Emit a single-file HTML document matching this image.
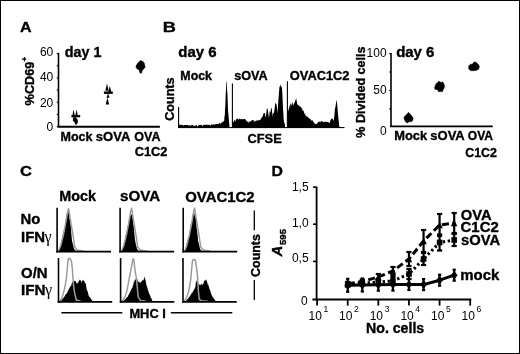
<!DOCTYPE html>
<html><head><meta charset="utf-8"><title>Figure</title>
<style>
html,body{margin:0;padding:0;background:#fff;}
svg{display:block;}
text{font-family:"Liberation Sans",Arial,Helvetica,sans-serif;fill:#000;}
text[font-weight="bold"]{stroke:#000;stroke-width:0.35px;}
</style></head>
<body>
<svg width="520" height="354" viewBox="0 0 520 354">
<rect x="0.5" y="0.5" width="519" height="353" fill="#fff" stroke="#000" stroke-width="1"/>
<text x="20.09" y="31.50" font-size="15.5" font-weight="bold" textLength="11.56" lengthAdjust="spacingAndGlyphs">A</text>
<text x="162.72" y="31.50" font-size="15.5" font-weight="bold" textLength="13.13" lengthAdjust="spacingAndGlyphs">B</text>
<text x="20.03" y="175.80" font-size="15.5" font-weight="bold" textLength="11.90" lengthAdjust="spacingAndGlyphs">C</text>
<text x="271.48" y="175.80" font-size="15.5" font-weight="bold" textLength="11.43" lengthAdjust="spacingAndGlyphs">D</text>
<line x1="58.50" y1="52.80" x2="58.50" y2="127.30" stroke="#000" stroke-width="1.6" />
<line x1="57.70" y1="126.80" x2="159.90" y2="126.80" stroke="#000" stroke-width="2.0" />
<line x1="56.80" y1="126.60" x2="58.50" y2="126.60" stroke="#000" stroke-width="1.2" />
<line x1="56.80" y1="114.43" x2="58.50" y2="114.43" stroke="#000" stroke-width="1.2" />
<line x1="56.80" y1="102.26" x2="58.50" y2="102.26" stroke="#000" stroke-width="1.2" />
<line x1="56.80" y1="90.09" x2="58.50" y2="90.09" stroke="#000" stroke-width="1.2" />
<line x1="56.80" y1="77.92" x2="58.50" y2="77.92" stroke="#000" stroke-width="1.2" />
<line x1="56.80" y1="65.75" x2="58.50" y2="65.75" stroke="#000" stroke-width="1.2" />
<line x1="56.80" y1="53.58" x2="58.50" y2="53.58" stroke="#000" stroke-width="1.2" />
<text x="53.3" y="55.6" font-size="12" font-weight="normal" text-anchor="end" >60</text>
<text x="53.3" y="81.0" font-size="12" font-weight="normal" text-anchor="end" >40</text>
<text x="53.3" y="107.1" font-size="12" font-weight="normal" text-anchor="end" >20</text>
<text x="53.3" y="130.6" font-size="12" font-weight="normal" text-anchor="end" >0</text>
<text x="64.74" y="57.10" font-size="14.0" font-weight="bold" textLength="36.69" lengthAdjust="spacingAndGlyphs">day 1</text>
<text transform="translate(34.00,105.39) rotate(-90)" font-size="12.6" font-weight="bold" textLength="43.82" lengthAdjust="spacingAndGlyphs">%CD69</text>
<text x="21.0" y="61.4" font-size="7.8" font-weight="bold" transform="translate(1.6,0) rotate(-90 23.1 59.3)">+</text>
<text x="60.57" y="140.60" font-size="12.4" font-weight="bold" textLength="31.98" lengthAdjust="spacingAndGlyphs">Mock</text>
<text x="95.89" y="140.60" font-size="12.4" font-weight="bold" textLength="34.50" lengthAdjust="spacingAndGlyphs">sOVA</text>
<text x="134.25" y="140.70" font-size="12.4" font-weight="bold" textLength="26.17" lengthAdjust="spacingAndGlyphs">OVA</text>
<text x="134.73" y="156.30" font-size="12.4" font-weight="bold" textLength="32.73" lengthAdjust="spacingAndGlyphs">C1C2</text>
<path d="M72.3,116.0 L73.6,109.6 L74.9,116.0 Z" fill="#000" stroke="none" stroke-width="1" />
<path d="M75.3,116.0 L76.6,109.6 L77.9,116.0 Z" fill="#000" stroke="none" stroke-width="1" />
<line x1="71.40" y1="116.20" x2="80.20" y2="116.20" stroke="#000" stroke-width="2.3" />
<path d="M73.0,117.6 L75.6,117.3 L77.6,119.6 L77.9,122.4 L76.4,124.8 L75.3,124.6 L74.6,122.4 L72.8,120.4 Z" fill="#000" stroke="none" stroke-width="1" />
<path d="M105.4,90.8 L107.0,83.2 L108.6,90.8 Z" fill="#000" stroke="none" stroke-width="1" />
<path d="M108.2,92.2 L109.8,85.8 L111.4,92.2 Z" fill="#000" stroke="none" stroke-width="1" />
<path d="M105.7,104.5 L107.4,97.5 L109.1,104.5 Z" fill="#000" stroke="none" stroke-width="1" />
<line x1="103.90" y1="92.70" x2="112.80" y2="92.70" stroke="#000" stroke-width="2.4" />
<path d="M106.5,97.8 L108.0,93.2 L109.5,97.8 Z" fill="#000" stroke="none" stroke-width="1" />
<path d="M140.2,60.7 L142.7,61.4 L144.0,62.7 L144.4,64.8 L145.1,67.0 L144.0,68.6 L142.7,69.5 L141.9,71.2 L141.4,73.1 L140.2,73.1 L139.7,71.2 L139.3,69.9 L137.6,69.1 L136.2,67.8 L136.2,66.1 L137.6,63.5 L138.9,61.9 Z" fill="#000" stroke="#000" stroke-width="0.8" stroke-linejoin="round"/>
<text x="178.39" y="57.10" font-size="14.0" font-weight="bold" textLength="38.30" lengthAdjust="spacingAndGlyphs">day 6</text>
<text x="180.37" y="80.30" font-size="12.2" font-weight="bold" textLength="31.60" lengthAdjust="spacingAndGlyphs">Mock</text>
<text x="234.16" y="80.40" font-size="12.2" font-weight="bold" textLength="33.51" lengthAdjust="spacingAndGlyphs">sOVA</text>
<text x="289.86" y="79.80" font-size="12.2" font-weight="bold" textLength="59.64" lengthAdjust="spacingAndGlyphs">OVAC1C2</text>
<text transform="translate(174.00,120.81) rotate(-90)" font-size="12.4" font-weight="bold" textLength="43.36" lengthAdjust="spacingAndGlyphs">Counts</text>
<text x="247.46" y="143.20" font-size="12.8" font-weight="bold" textLength="34.32" lengthAdjust="spacingAndGlyphs">CFSE</text>
<path d="M178.8,127.9 L178.8,125.0 L179.4,124.8 L180.0,125.0 L180.6,124.8 L181.2,124.8 L181.8,124.8 L182.4,124.9 L183.0,124.9 L183.6,125.7 L184.2,124.9 L184.8,124.9 L185.4,124.9 L186.0,124.9 L186.6,124.9 L187.2,124.9 L187.8,125.1 L188.4,125.7 L189.0,125.0 L189.6,125.5 L190.0,125.0 L190.2,125.9 L190.8,125.5 L191.4,125.0 L192.0,125.0 L192.6,125.0 L193.2,124.9 L193.8,126.4 L194.4,125.7 L195.0,125.9 L195.6,125.6 L196.2,124.9 L196.8,124.9 L197.4,126.4 L198.0,126.4 L198.6,124.9 L199.2,124.9 L199.8,124.9 L200.4,124.9 L201.0,124.8 L201.6,124.8 L202.2,126.3 L202.8,125.4 L203.4,125.0 L204.0,124.8 L204.6,124.8 L205.0,124.9 L205.2,124.8 L205.8,124.8 L206.4,124.7 L207.0,124.7 L207.6,124.7 L208.2,125.1 L208.8,124.8 L209.4,125.0 L210.0,124.6 L210.6,125.9 L211.2,124.6 L211.8,124.6 L212.4,124.6 L213.0,124.5 L213.6,124.5 L214.2,124.5 L214.8,124.5 L215.0,124.4 L215.4,124.2 L216.0,124.1 L216.6,124.0 L217.2,123.9 L217.8,123.7 L218.4,124.3 L219.0,123.3 L219.6,123.1 L220.2,122.9 L220.8,124.4 L221.4,122.5 L222.0,121.9 L222.6,122.5 L223.2,121.0 L223.5,120.8 L223.8,122.3 L224.3,120.1 L224.4,117.1 L224.8,115.6 L225.0,109.5 L225.3,106.5 L225.6,96.2 L226.0,89.5 L226.2,83.5 L226.5,80.5 L226.8,83.5 L227.0,89.5 L227.4,93.8 L227.8,103.5 L228.0,110.5 L228.3,113.5 L228.6,116.5 L228.8,118.5 L229.2,123.5 L229.3,124.1 L229.6,127.9 L229.6,127.9 Z" fill="#000" stroke="none" stroke-width="1" />
<line x1="178.60" y1="107.00" x2="178.60" y2="127.90" stroke="#000" stroke-width="1.1" />
<path d="M232.6,127.9 L232.6,121.6 L233.2,122.5 L233.8,121.4 L234.4,120.0 L234.6,119.8 L235.0,120.1 L235.6,121.7 L236.2,118.9 L236.8,118.9 L237.4,118.5 L237.6,118.5 L238.0,118.5 L238.6,120.3 L239.2,118.6 L239.8,118.7 L240.4,119.6 L240.7,118.9 L241.0,118.9 L241.6,118.9 L242.2,119.0 L242.8,119.7 L243.4,119.0 L244.0,119.1 L244.6,119.1 L245.2,119.2 L245.3,120.6 L245.8,119.2 L246.4,120.6 L247.0,122.0 L247.6,120.9 L248.2,123.4 L248.8,121.3 L249.4,121.6 L249.8,122.5 L250.0,121.7 L250.6,121.3 L251.2,120.8 L251.8,120.4 L252.4,120.0 L252.9,120.0 L253.0,120.0 L253.6,120.3 L254.2,122.7 L254.8,120.2 L255.4,121.5 L256.0,120.4 L256.6,120.5 L257.2,120.6 L257.5,120.6 L257.8,120.5 L258.4,120.3 L259.0,120.2 L259.6,120.1 L260.2,120.0 L260.5,119.5 L260.8,118.6 L261.4,118.6 L262.0,116.7 L262.6,116.2 L262.8,116.9 L263.2,114.3 L263.8,113.1 L264.4,113.1 L265.0,113.1 L265.6,117.8 L265.9,116.2 L266.2,114.4 L266.8,108.5 L267.4,108.5 L268.0,111.4 L268.6,115.2 L268.9,118.3 L269.2,116.0 L269.8,111.0 L270.4,112.5 L271.0,109.2 L271.2,107.8 L271.6,107.8 L272.2,112.4 L272.7,117.6 L272.8,114.2 L273.4,113.5 L274.0,112.4 L274.6,108.7 L275.2,103.2 L275.8,103.2 L276.4,104.0 L277.0,107.3 L277.6,113.4 L278.2,103.0 L278.8,95.1 L279.4,87.3 L279.6,86.1 L280.0,87.3 L280.6,84.4 L280.7,84.1 L281.2,87.9 L281.8,85.4 L281.9,86.9 L282.4,94.5 L283.0,108.1 L283.4,114.0 L283.6,118.8 L284.2,122.8 L284.8,123.5 L285.0,126.7 L285.4,127.7 L285.5,127.9 L285.5,127.9 Z" fill="#000" stroke="none" stroke-width="1" />
<line x1="232.40" y1="83.60" x2="232.40" y2="127.90" stroke="#000" stroke-width="1.1" />
<path d="M287.7,127.9 L287.7,108.8 L288.3,111.3 L288.8,107.6 L288.9,110.1 L289.5,105.1 L290.1,107.3 L290.3,104.1 L290.7,103.2 L291.3,105.7 L291.9,103.6 L292.3,101.9 L292.5,102.2 L293.1,106.4 L293.4,103.9 L293.7,104.4 L294.3,103.2 L294.9,102.1 L295.5,99.1 L296.1,101.6 L296.5,97.8 L296.7,99.8 L297.3,105.2 L297.5,104.1 L297.9,104.8 L298.5,105.5 L299.1,105.1 L299.5,106.9 L299.7,106.2 L300.3,106.4 L300.9,107.0 L301.5,107.9 L301.8,108.6 L302.1,108.5 L302.7,110.7 L303.3,110.4 L303.9,111.5 L304.1,112.7 L304.5,113.9 L305.1,113.6 L305.7,116.5 L306.3,115.3 L306.4,116.2 L306.9,116.8 L307.5,116.6 L308.1,117.5 L308.7,118.0 L309.3,118.0 L309.4,118.4 L309.9,119.1 L310.5,118.9 L311.1,120.4 L311.7,120.5 L312.3,120.2 L312.5,120.6 L312.9,120.8 L313.5,122.2 L314.1,122.7 L314.7,123.3 L314.8,123.7 L315.3,124.3 L315.9,123.8 L316.5,124.0 L317.1,123.8 L317.7,122.6 L318.3,122.1 L318.9,121.5 L319.5,121.4 L320.1,122.7 L320.7,121.3 L321.3,121.0 L321.9,121.4 L322.5,121.6 L323.1,122.0 L323.2,122.2 L323.7,122.0 L324.3,121.8 L324.9,121.9 L325.5,121.5 L326.1,122.1 L326.2,121.5 L326.7,121.9 L327.3,121.9 L327.9,122.0 L328.5,122.3 L329.1,122.8 L329.3,122.6 L329.7,123.5 L330.3,120.5 L330.9,119.7 L331.5,118.7 L331.6,118.5 L332.1,118.6 L332.7,118.8 L333.3,121.1 L333.9,119.6 L334.5,114.3 L335.1,107.1 L335.4,108.2 L335.7,105.1 L336.3,101.0 L336.6,100.1 L336.9,102.3 L337.5,107.5 L337.7,110.8 L338.1,115.0 L338.4,118.2 L338.7,120.4 L339.2,126.4 L339.3,126.6 L339.9,126.9 L340.5,127.0 L341.0,127.0 L341.1,127.2 L341.7,127.3 L342.3,127.5 L342.9,127.5 L343.5,127.7 L344.1,127.8 L344.5,127.9 L344.5,127.9 Z" fill="#000" stroke="none" stroke-width="1" />
<line x1="287.40" y1="81.20" x2="287.40" y2="127.90" stroke="#000" stroke-width="1.1" />
<line x1="178.20" y1="127.60" x2="344.50" y2="127.60" stroke="#000" stroke-width="1.0" />
<line x1="391.00" y1="52.90" x2="391.00" y2="127.00" stroke="#000" stroke-width="1.6" />
<line x1="390.20" y1="126.40" x2="492.80" y2="126.40" stroke="#000" stroke-width="1.8" />
<line x1="389.30" y1="53.50" x2="391.00" y2="53.50" stroke="#000" stroke-width="1.2" />
<line x1="389.30" y1="72.00" x2="391.00" y2="72.00" stroke="#000" stroke-width="1.2" />
<line x1="389.30" y1="90.50" x2="391.00" y2="90.50" stroke="#000" stroke-width="1.2" />
<line x1="389.30" y1="108.80" x2="391.00" y2="108.80" stroke="#000" stroke-width="1.2" />
<text x="386.6" y="57.3" font-size="12" font-weight="normal" text-anchor="end" >100</text>
<text x="386.6" y="94.3" font-size="12" font-weight="normal" text-anchor="end" >50</text>
<text x="386.6" y="134.8" font-size="12" font-weight="normal" text-anchor="end" >0</text>
<text x="396.20" y="57.10" font-size="14.0" font-weight="bold" textLength="38.22" lengthAdjust="spacingAndGlyphs">day 6</text>
<text transform="translate(365.20,137.66) rotate(-90)" font-size="12.4" font-weight="bold" textLength="91.01" lengthAdjust="spacingAndGlyphs">% Divided cells</text>
<text x="394.26" y="140.30" font-size="12.4" font-weight="bold" textLength="32.82" lengthAdjust="spacingAndGlyphs">Mock</text>
<text x="430.30" y="140.30" font-size="12.4" font-weight="bold" textLength="34.46" lengthAdjust="spacingAndGlyphs">sOVA</text>
<text x="467.82" y="140.30" font-size="12.4" font-weight="bold" textLength="25.23" lengthAdjust="spacingAndGlyphs">OVA</text>
<text x="465.36" y="156.50" font-size="12.4" font-weight="bold" textLength="31.54" lengthAdjust="spacingAndGlyphs">C1C2</text>
<path d="M408.4,112.3 L410.2,114.1 L412.2,116.4 L413.2,118.2 L412.7,120.7 L410.9,122 L409.4,121.5 L407.6,123 L405.8,122.2 L404.8,120.2 L403.8,117.9 L404.8,116.1 L406.6,114.6 Z" fill="#000" stroke="#000" stroke-width="0.4" stroke-linejoin="round"/>
<path d="M438.6,81.1 L439.9,81.8 L441.2,82.6 L442.7,81.8 L443.7,83.6 L444.7,85.6 L444,88.4 L443,90 L442.7,91.5 L438.4,91.7 L437.9,90 L434.8,89.2 L434.6,87.2 L436.1,83.6 L437.9,82.6 Z" fill="#000" stroke="#000" stroke-width="0.4" stroke-linejoin="round"/>
<path d="M474.7,61.8 L476.7,62.8 L478.5,64.6 L479.5,66.7 L478.5,69.5 L475.2,70.7 L470.6,70.7 L468.6,68.7 L468.6,66.2 L470.1,64.4 L472.6,63.9 L473.4,62.6 Z" fill="#000" stroke="#000" stroke-width="0.4" stroke-linejoin="round"/>
<text x="59.20" y="201.20" font-size="14.0" font-weight="bold" textLength="36.71" lengthAdjust="spacingAndGlyphs">Mock</text>
<text x="120.05" y="200.80" font-size="14.0" font-weight="bold" textLength="40.01" lengthAdjust="spacingAndGlyphs">sOVA</text>
<text x="185.19" y="201.60" font-size="14.0" font-weight="bold" textLength="69.45" lengthAdjust="spacingAndGlyphs">OVAC1C2</text>
<text x="20.61" y="224.10" font-size="14.0" font-weight="bold" textLength="19.78" lengthAdjust="spacingAndGlyphs">No</text>
<text x="21.04" y="241.80" font-size="14.0" font-weight="bold" textLength="24.02" lengthAdjust="spacingAndGlyphs">IFN</text>
<text x="44.4" y="242.2" font-size="16" style="font-family:'Liberation Serif',serif">&#947;</text>
<text x="21.06" y="277.70" font-size="14.0" font-weight="bold" textLength="26.53" lengthAdjust="spacingAndGlyphs">O/N</text>
<text x="20.97" y="295.00" font-size="14.0" font-weight="bold" textLength="24.59" lengthAdjust="spacingAndGlyphs">IFN</text>
<text x="44.9" y="295.4" font-size="16" style="font-family:'Liberation Serif',serif">&#947;</text>
<text x="129.41" y="318.20" font-size="12.6" font-weight="bold" textLength="36.41" lengthAdjust="spacingAndGlyphs">MHC I</text>
<line x1="61.40" y1="312.70" x2="122.30" y2="312.70" stroke="#000" stroke-width="1.6" />
<line x1="170.80" y1="312.70" x2="232.30" y2="312.70" stroke="#000" stroke-width="1.6" />
<text transform="translate(260.10,276.91) rotate(-90)" font-size="12.4" font-weight="bold" textLength="42.80" lengthAdjust="spacingAndGlyphs">Counts</text>
<line x1="254.30" y1="210.40" x2="254.30" y2="230.20" stroke="#000" stroke-width="1.3" />
<line x1="254.30" y1="280.00" x2="254.30" y2="300.00" stroke="#000" stroke-width="1.3" />
<path d="M58.3,251.7 L58.3,251.7 L58.8,250.4 L59.3,249.0 L59.8,247.5 L60.3,246.3 L60.4,245.9 L60.8,244.5 L61.3,242.1 L61.8,239.3 L62.3,238.3 L62.8,234.3 L63.3,234.2 L63.4,233.3 L63.8,231.0 L64.3,227.6 L64.8,227.2 L65.3,225.6 L65.8,219.8 L66.1,218.1 L66.3,217.2 L66.8,213.4 L67.3,213.1 L67.6,211.6 L67.8,209.9 L68.3,209.5 L68.4,209.5 L68.8,213.5 L69.2,214.1 L69.3,219.5 L69.8,217.8 L70.3,223.7 L70.6,225.1 L70.8,226.0 L71.3,233.2 L71.8,238.4 L72.0,240.5 L72.3,241.9 L72.8,243.9 L73.3,245.7 L73.8,247.9 L74.0,248.8 L74.3,249.2 L74.8,249.7 L75.3,250.3 L75.8,251.0 L76.3,251.6 L76.4,251.7 L76.4,251.7 Z" fill="#000" stroke="none" stroke-width="1" />
<path d="M58.1,251.1 L58.6,250.4 L59.1,249.5 L59.6,248.4 L60.1,247.3 L60.6,246.2 L61.1,244.1 L61.6,242.4 L62.1,240.0 L62.6,238.1 L63.1,236.4 L63.6,233.7 L64.1,231.3 L64.6,228.9 L65.1,226.3 L65.6,223.4 L66.1,220.8 L66.6,217.7 L67.1,215.0 L67.6,211.6 L68.1,209.9 L68.6,208.7 L69.1,211.1 L69.6,214.7 L70.1,218.3 L70.6,221.0 L71.1,223.8 L71.6,227.0 L72.1,229.7 L72.6,232.6 L73.1,235.7 L73.6,239.5 L74.1,242.9 L74.6,246.1 L75.1,247.9 L75.6,248.0 L76.1,248.7 L76.6,249.3 L77.1,250.1 L77.6,250.5 L78.1,250.2 L78.6,250.2 L79.1,250.4 L79.6,250.5 L80.1,250.8 L80.6,250.5 L81.1,250.8 L81.6,250.9 L82.1,251.0 L82.6,251.0 L83.1,251.0 L83.6,251.0 L84.1,251.1" fill="none" stroke="#9c9c9c" stroke-width="1.5" stroke-linejoin="round"/>
<line x1="57.10" y1="207.80" x2="57.10" y2="252.50" stroke="#000" stroke-width="1.6" />
<line x1="56.30" y1="251.70" x2="111.00" y2="251.70" stroke="#000" stroke-width="1.8" />
<path d="M121.3,251.7 L121.3,251.7 L121.8,250.3 L122.3,248.9 L122.8,247.6 L123.3,246.3 L123.4,246.2 L123.8,244.2 L124.3,242.2 L124.8,240.5 L125.3,238.1 L125.8,234.5 L126.3,233.9 L126.4,232.7 L126.8,231.2 L127.3,228.2 L127.8,225.7 L128.3,225.0 L128.8,220.6 L129.1,219.9 L129.3,218.0 L129.8,218.4 L130.3,214.0 L130.6,215.1 L130.8,216.2 L131.3,214.0 L131.4,215.8 L131.8,214.0 L132.2,214.5 L132.3,216.3 L132.8,218.1 L133.3,224.9 L133.6,224.8 L133.8,227.8 L134.3,232.6 L134.8,238.2 L135.0,240.0 L135.3,241.2 L135.8,244.0 L136.3,245.9 L136.8,247.8 L137.0,248.7 L137.3,249.2 L137.8,249.8 L138.3,250.3 L138.8,251.0 L139.3,251.6 L139.4,251.7 L139.4,251.7 Z" fill="#000" stroke="none" stroke-width="1" />
<path d="M121.1,251.4 L121.6,250.5 L122.1,249.6 L122.6,248.2 L123.1,247.4 L123.6,246.0 L124.1,244.0 L124.6,242.4 L125.1,240.2 L125.6,238.4 L126.1,236.1 L126.6,234.1 L127.1,231.3 L127.6,228.7 L128.1,226.3 L128.6,223.8 L129.1,220.8 L129.6,218.0 L130.1,214.9 L130.6,211.6 L131.1,209.7 L131.6,208.3 L132.1,211.0 L132.6,214.7 L133.1,218.1 L133.6,221.1 L134.1,223.8 L134.6,226.6 L135.1,229.7 L135.6,232.8 L136.1,235.8 L136.6,239.2 L137.1,242.6 L137.6,246.2 L138.1,247.7 L138.6,248.0 L139.1,248.6 L139.6,249.3 L140.1,249.9 L140.6,250.3 L141.1,250.1 L141.6,250.2 L142.1,250.5 L142.6,250.4 L143.1,250.5 L143.6,250.5 L144.1,250.9 L144.6,250.7 L145.1,250.9 L145.6,250.8 L146.1,251.0 L146.6,251.3 L147.1,251.4" fill="none" stroke="#9c9c9c" stroke-width="1.5" stroke-linejoin="round"/>
<line x1="120.10" y1="207.80" x2="120.10" y2="252.50" stroke="#000" stroke-width="1.6" />
<line x1="119.30" y1="251.70" x2="174.20" y2="251.70" stroke="#000" stroke-width="1.8" />
<path d="M184.4,251.7 L184.4,251.7 L184.9,250.3 L185.4,248.8 L185.9,247.4 L186.4,246.2 L186.9,243.2 L187.4,241.7 L187.9,240.4 L188.4,237.0 L188.9,236.5 L189.4,232.5 L189.9,231.1 L190.4,227.9 L190.9,224.0 L191.4,222.6 L191.9,221.8 L192.1,221.2 L192.4,216.2 L192.9,214.7 L193.4,215.0 L193.6,213.0 L193.9,213.0 L194.4,213.0 L194.9,217.1 L195.2,214.5 L195.4,214.4 L195.9,219.1 L196.4,223.3 L196.6,228.5 L196.9,228.9 L197.4,233.8 L197.9,238.0 L198.0,240.7 L198.4,242.1 L198.9,244.1 L199.4,246.1 L199.9,248.4 L200.0,248.7 L200.4,249.4 L200.9,249.9 L201.4,250.5 L201.9,251.1 L202.4,251.7 L202.4,251.7 Z" fill="#000" stroke="none" stroke-width="1" />
<path d="M184.2,251.2 L184.7,250.4 L185.2,249.5 L185.7,248.2 L186.2,247.2 L186.7,245.7 L187.2,243.8 L187.7,241.7 L188.2,239.6 L188.7,237.7 L189.2,235.9 L189.7,233.6 L190.2,230.6 L190.7,228.3 L191.2,225.8 L191.7,222.8 L192.2,220.6 L192.7,217.1 L193.2,214.3 L193.7,211.1 L194.2,209.5 L194.7,208.1 L195.2,211.8 L195.7,215.6 L196.2,218.6 L196.7,221.7 L197.2,224.5 L197.7,227.4 L198.2,230.1 L198.7,233.4 L199.2,236.7 L199.7,239.9 L200.2,243.5 L200.7,246.9 L201.2,247.8 L201.7,248.2 L202.2,248.9 L202.7,249.2 L203.2,249.8 L203.7,250.2 L204.2,250.1 L204.7,250.3 L205.2,250.4 L205.7,250.3 L206.2,250.6 L206.7,250.4 L207.2,250.8 L207.7,250.9 L208.2,250.9 L208.7,250.7 L209.2,251.0 L209.7,251.0 L210.2,251.4" fill="none" stroke="#9c9c9c" stroke-width="1.5" stroke-linejoin="round"/>
<line x1="183.20" y1="207.80" x2="183.20" y2="252.50" stroke="#000" stroke-width="1.6" />
<line x1="182.40" y1="251.70" x2="237.20" y2="251.70" stroke="#000" stroke-width="1.8" />
<path d="M60.0,301.9 L60.0,301.9 L60.5,301.3 L61.0,300.7 L61.5,300.2 L62.0,299.6 L62.5,299.2 L63.0,298.3 L63.5,298.0 L64.0,296.7 L64.5,296.7 L65.0,295.4 L65.5,294.4 L66.0,294.1 L66.5,293.6 L67.0,293.3 L67.5,291.7 L67.7,291.2 L68.0,290.3 L68.5,290.5 L69.0,288.6 L69.5,288.0 L70.0,286.9 L70.5,286.3 L71.0,286.0 L71.5,284.6 L72.0,282.3 L72.5,282.4 L72.7,281.6 L73.0,281.3 L73.5,280.9 L74.0,280.6 L74.5,281.4 L74.8,280.4 L75.0,281.1 L75.5,280.9 L76.0,282.1 L76.5,283.6 L77.0,282.7 L77.5,284.3 L78.0,281.1 L78.5,282.7 L79.0,280.9 L79.5,279.5 L80.0,280.4 L80.5,280.0 L81.0,281.1 L81.5,283.2 L82.0,280.5 L82.5,280.9 L83.0,279.5 L83.5,280.6 L84.0,281.0 L84.5,281.3 L85.0,283.7 L85.3,282.4 L85.5,283.0 L86.0,284.9 L86.5,288.6 L87.0,290.5 L87.5,291.1 L88.0,292.7 L88.5,294.9 L88.9,296.2 L89.0,296.4 L89.5,296.8 L90.0,297.5 L90.5,298.1 L91.0,298.7 L91.5,299.8 L92.0,300.3 L92.4,300.9 L92.5,301.0 L93.0,301.3 L93.5,301.6 L94.0,301.9 L94.0,301.9 Z" fill="#000" stroke="none" stroke-width="1" />
<path d="M59.3,301.3 L59.8,300.7 L60.3,300.2 L60.8,299.6 L61.3,299.3 L61.8,298.1 L62.3,296.5 L62.8,295.2 L63.3,293.6 L63.8,291.5 L64.3,289.7 L64.8,287.1 L65.3,284.8 L65.8,281.8 L66.3,279.1 L66.8,273.7 L67.3,268.1 L67.8,261.9 L68.3,259.0 L68.8,258.3 L69.3,258.5 L69.8,258.7 L70.3,258.8 L70.8,259.9 L71.3,261.2 L71.8,263.9 L72.3,268.1 L72.8,275.7 L73.3,282.5 L73.8,287.6 L74.3,291.4 L74.8,293.6 L75.3,295.8 L75.8,298.0 L76.3,300.2 L76.8,299.9 L77.3,300.3 L77.8,300.7 L78.3,300.4 L78.8,300.6 L79.3,300.9 L79.8,301.0 L80.3,301.2 L80.8,301.4" fill="none" stroke="#9c9c9c" stroke-width="1.5" stroke-linejoin="round"/>
<line x1="58.50" y1="258.00" x2="58.50" y2="302.70" stroke="#000" stroke-width="1.6" />
<line x1="57.70" y1="301.90" x2="112.20" y2="301.90" stroke="#000" stroke-width="1.8" />
<path d="M122.5,301.9 L122.5,301.9 L123.0,301.4 L123.5,300.9 L124.0,300.4 L124.5,299.9 L125.0,299.3 L125.5,299.2 L126.0,298.5 L126.5,298.0 L127.0,297.0 L127.5,296.9 L128.0,296.2 L128.5,294.7 L129.0,294.4 L129.5,293.2 L130.0,292.2 L130.5,291.4 L131.0,289.8 L131.5,288.9 L132.0,287.7 L132.5,287.8 L133.0,284.2 L133.4,285.4 L133.5,283.8 L134.0,280.6 L134.5,282.6 L134.8,279.2 L135.0,280.3 L135.5,278.7 L136.0,280.2 L136.2,280.5 L136.5,277.8 L137.0,278.4 L137.5,280.0 L138.0,281.4 L138.5,281.8 L139.0,282.0 L139.5,282.0 L140.0,282.7 L140.5,282.9 L141.0,281.3 L141.5,281.8 L142.0,281.0 L142.5,279.8 L143.0,280.9 L143.5,279.4 L143.8,280.0 L144.0,277.1 L144.5,277.4 L144.7,276.9 L145.0,279.9 L145.5,279.0 L145.8,282.0 L146.0,282.2 L146.5,285.8 L146.8,286.2 L147.0,286.1 L147.5,288.6 L148.0,290.2 L148.5,291.4 L148.9,293.2 L149.0,293.0 L149.5,294.3 L150.0,295.2 L150.5,296.7 L151.0,297.7 L151.5,298.8 L152.0,299.8 L152.4,300.9 L152.5,301.0 L153.0,301.3 L153.5,301.6 L154.0,301.9 L154.0,301.9 Z" fill="#000" stroke="none" stroke-width="1" />
<path d="M121.3,301.4 L121.8,300.9 L122.3,300.7 L122.8,300.2 L123.3,299.8 L123.8,299.0 L124.3,298.5 L124.8,297.3 L125.3,296.1 L125.8,294.5 L126.3,293.3 L126.8,291.2 L127.3,288.5 L127.8,286.3 L128.3,283.6 L128.8,280.6 L129.3,278.1 L129.8,275.5 L130.3,272.9 L130.8,270.3 L131.3,267.9 L131.8,265.5 L132.3,261.9 L132.8,259.5 L133.3,258.7 L133.8,259.4 L134.3,263.9 L134.8,268.5 L135.3,271.9 L135.8,274.9 L136.3,277.7 L136.8,282.0 L137.3,287.6 L137.8,293.0 L138.3,297.5 L138.8,297.8 L139.3,298.6 L139.8,299.3 L140.3,300.1 L140.8,300.5 L141.3,300.9 L141.8,300.9 L142.3,300.8 L142.8,301.2 L143.3,300.8 L143.8,301.2 L144.3,301.0 L144.8,300.9 L145.3,301.1 L145.8,301.4" fill="none" stroke="#9c9c9c" stroke-width="1.5" stroke-linejoin="round"/>
<line x1="120.60" y1="258.10" x2="120.60" y2="302.70" stroke="#000" stroke-width="1.6" />
<line x1="119.80" y1="301.90" x2="174.30" y2="301.90" stroke="#000" stroke-width="1.8" />
<path d="M185.0,301.9 L185.0,301.9 L185.5,301.3 L186.0,300.9 L186.5,300.2 L187.0,299.6 L187.5,299.2 L188.0,298.7 L188.5,298.0 L189.0,297.2 L189.5,296.8 L190.0,295.6 L190.5,295.3 L191.0,294.4 L191.5,293.1 L192.0,293.4 L192.1,293.0 L192.5,292.4 L193.0,291.5 L193.5,290.1 L194.0,290.5 L194.5,288.2 L195.0,288.7 L195.5,285.6 L196.0,281.5 L196.4,282.5 L196.5,280.4 L197.0,280.6 L197.5,281.7 L197.8,282.8 L198.0,283.6 L198.5,284.3 L199.0,284.1 L199.2,285.7 L199.5,284.6 L200.0,284.3 L200.5,284.8 L201.0,285.4 L201.5,283.7 L202.0,283.7 L202.5,285.3 L203.0,283.8 L203.4,283.8 L203.5,283.1 L204.0,281.3 L204.5,280.0 L205.0,281.6 L205.5,279.6 L206.0,280.0 L206.2,281.2 L206.5,279.0 L207.0,281.8 L207.5,283.0 L207.6,285.3 L208.0,283.8 L208.5,285.8 L209.0,286.9 L209.5,289.4 L210.0,289.4 L210.5,291.7 L211.0,293.6 L211.5,294.6 L211.9,295.8 L212.0,296.3 L212.5,296.5 L213.0,297.4 L213.5,298.1 L214.0,298.8 L214.5,299.3 L215.0,300.3 L215.4,300.9 L215.5,300.9 L216.0,301.3 L216.5,301.6 L217.0,301.9 L217.0,301.9 Z" fill="#000" stroke="none" stroke-width="1" />
<path d="M183.8,301.5 L184.3,300.9 L184.8,300.1 L185.3,299.4 L185.8,299.0 L186.3,298.1 L186.8,297.0 L187.3,295.5 L187.8,293.9 L188.3,292.5 L188.8,290.5 L189.3,287.8 L189.8,285.1 L190.3,282.1 L190.8,278.2 L191.3,272.4 L191.8,267.2 L192.3,262.6 L192.8,260.0 L193.3,259.9 L193.8,259.4 L194.3,259.5 L194.8,259.9 L195.3,260.0 L195.8,262.9 L196.3,266.1 L196.8,269.9 L197.3,273.6 L197.8,280.7 L198.3,290.2 L198.8,295.4 L199.3,299.6 L199.8,299.8 L200.3,300.0 L200.8,300.4 L201.3,300.4 L201.8,300.9 L202.3,301.2 L202.8,301.1 L203.3,301.1 L203.8,301.0 L204.3,301.1 L204.8,301.1 L205.3,301.2 L205.8,301.1 L206.3,301.3 L206.8,301.5 L207.3,301.1 L207.8,301.4" fill="none" stroke="#9c9c9c" stroke-width="1.5" stroke-linejoin="round"/>
<line x1="183.00" y1="258.10" x2="183.00" y2="302.70" stroke="#000" stroke-width="1.6" />
<line x1="182.20" y1="301.90" x2="236.70" y2="301.90" stroke="#000" stroke-width="1.8" />
<line x1="316.60" y1="186.70" x2="316.60" y2="300.30" stroke="#000" stroke-width="1.8" />
<line x1="312.40" y1="299.50" x2="471.20" y2="299.50" stroke="#000" stroke-width="1.8" />
<line x1="313.00" y1="187.10" x2="316.60" y2="187.10" stroke="#000" stroke-width="1.6" />
<text x="308.6" y="191.4" font-size="12" font-weight="normal" text-anchor="end" >1,5</text>
<line x1="313.00" y1="224.20" x2="316.60" y2="224.20" stroke="#000" stroke-width="1.6" />
<text x="308.6" y="227.2" font-size="12" font-weight="normal" text-anchor="end" >1,0</text>
<line x1="313.00" y1="261.40" x2="316.60" y2="261.40" stroke="#000" stroke-width="1.6" />
<text x="308.6" y="262.2" font-size="12" font-weight="normal" text-anchor="end" >0,5</text>
<text x="307.8" y="304.5" font-size="12" font-weight="normal" text-anchor="end" >0</text>
<line x1="317.10" y1="299.50" x2="317.10" y2="305.60" stroke="#000" stroke-width="1.8" />
<text x="308.5" y="319.6" font-size="12" >10<tspan font-size="8.6" dy="-7.2" dx="1.6">1</tspan></text>
<line x1="347.72" y1="299.50" x2="347.72" y2="305.60" stroke="#000" stroke-width="1.8" />
<text x="339.1" y="319.6" font-size="12" >10<tspan font-size="8.6" dy="-7.2" dx="1.6">2</tspan></text>
<line x1="378.34" y1="299.50" x2="378.34" y2="305.60" stroke="#000" stroke-width="1.8" />
<text x="369.7" y="319.6" font-size="12" >10<tspan font-size="8.6" dy="-7.2" dx="1.6">3</tspan></text>
<line x1="408.96" y1="299.50" x2="408.96" y2="305.60" stroke="#000" stroke-width="1.8" />
<text x="400.4" y="319.6" font-size="12" >10<tspan font-size="8.6" dy="-7.2" dx="1.6">4</tspan></text>
<line x1="439.58" y1="299.50" x2="439.58" y2="305.60" stroke="#000" stroke-width="1.8" />
<text x="431.0" y="319.6" font-size="12" >10<tspan font-size="8.6" dy="-7.2" dx="1.6">5</tspan></text>
<line x1="470.20" y1="299.50" x2="470.20" y2="305.60" stroke="#000" stroke-width="1.8" />
<text x="461.6" y="319.6" font-size="12" >10<tspan font-size="8.6" dy="-7.2" dx="1.6">6</tspan></text>
<text x="366.06" y="333.00" font-size="13.8" font-weight="bold" textLength="58.12" lengthAdjust="spacingAndGlyphs">No. cells</text>
<text transform="translate(282.2,256.4) rotate(-90)" font-size="15" font-weight="bold"><tspan font-style="italic">A</tspan><tspan font-size="9.6" dy="3.4" dx="0.6">595</tspan></text>
<text x="460.72" y="219.60" font-size="13.8" font-weight="bold" textLength="30.83" lengthAdjust="spacingAndGlyphs">OVA</text>
<text x="460.58" y="232.30" font-size="13.8" font-weight="bold" textLength="38.13" lengthAdjust="spacingAndGlyphs">C1C2</text>
<text x="460.99" y="245.00" font-size="13.8" font-weight="bold" textLength="39.08" lengthAdjust="spacingAndGlyphs">sOVA</text>
<text x="460.31" y="279.80" font-size="14.2" font-weight="bold" textLength="39.04" lengthAdjust="spacingAndGlyphs">mock</text>
<polyline points="347.7,285.3 362.3,285.0 378.3,284.7 392.9,284.6 409.0,284.5 423.6,284.6 439.6,280.2 454.2,275.2" fill="none" stroke="#000" stroke-width="3.0" stroke-dasharray="none" stroke-linejoin="round"/>
<line x1="347.72" y1="278.80" x2="347.72" y2="291.80" stroke="#000" stroke-width="2.2" />
<line x1="346.12" y1="278.80" x2="349.32" y2="278.80" stroke="#000" stroke-width="2.2" />
<line x1="346.12" y1="291.80" x2="349.32" y2="291.80" stroke="#000" stroke-width="2.2" />
<path d="M347.7,280.8 L351.0,285.3 L347.7,289.8 L344.4,285.3 Z" fill="#000" stroke="none" stroke-width="1" />
<line x1="362.33" y1="278.50" x2="362.33" y2="291.50" stroke="#000" stroke-width="2.2" />
<line x1="360.73" y1="278.50" x2="363.93" y2="278.50" stroke="#000" stroke-width="2.2" />
<line x1="360.73" y1="291.50" x2="363.93" y2="291.50" stroke="#000" stroke-width="2.2" />
<path d="M362.3,280.5 L365.6,285.0 L362.3,289.5 L359.0,285.0 Z" fill="#000" stroke="none" stroke-width="1" />
<line x1="378.34" y1="278.70" x2="378.34" y2="290.70" stroke="#000" stroke-width="2.2" />
<line x1="376.74" y1="278.70" x2="379.94" y2="278.70" stroke="#000" stroke-width="2.2" />
<line x1="376.74" y1="290.70" x2="379.94" y2="290.70" stroke="#000" stroke-width="2.2" />
<path d="M378.3,280.2 L381.6,284.7 L378.3,289.2 L375.0,284.7 Z" fill="#000" stroke="none" stroke-width="1" />
<line x1="392.95" y1="278.60" x2="392.95" y2="290.60" stroke="#000" stroke-width="2.2" />
<line x1="391.35" y1="278.60" x2="394.55" y2="278.60" stroke="#000" stroke-width="2.2" />
<line x1="391.35" y1="290.60" x2="394.55" y2="290.60" stroke="#000" stroke-width="2.2" />
<path d="M392.9,280.1 L396.2,284.6 L392.9,289.1 L389.6,284.6 Z" fill="#000" stroke="none" stroke-width="1" />
<line x1="408.96" y1="279.00" x2="408.96" y2="290.00" stroke="#000" stroke-width="2.2" />
<line x1="407.36" y1="279.00" x2="410.56" y2="279.00" stroke="#000" stroke-width="2.2" />
<line x1="407.36" y1="290.00" x2="410.56" y2="290.00" stroke="#000" stroke-width="2.2" />
<path d="M409.0,280.0 L412.3,284.5 L409.0,289.0 L405.7,284.5 Z" fill="#000" stroke="none" stroke-width="1" />
<line x1="423.57" y1="279.10" x2="423.57" y2="290.10" stroke="#000" stroke-width="2.2" />
<line x1="421.97" y1="279.10" x2="425.17" y2="279.10" stroke="#000" stroke-width="2.2" />
<line x1="421.97" y1="290.10" x2="425.17" y2="290.10" stroke="#000" stroke-width="2.2" />
<path d="M423.6,280.1 L426.9,284.6 L423.6,289.1 L420.3,284.6 Z" fill="#000" stroke="none" stroke-width="1" />
<line x1="439.58" y1="274.70" x2="439.58" y2="285.70" stroke="#000" stroke-width="2.2" />
<line x1="437.98" y1="274.70" x2="441.18" y2="274.70" stroke="#000" stroke-width="2.2" />
<line x1="437.98" y1="285.70" x2="441.18" y2="285.70" stroke="#000" stroke-width="2.2" />
<path d="M439.6,275.7 L442.9,280.2 L439.6,284.7 L436.3,280.2 Z" fill="#000" stroke="none" stroke-width="1" />
<line x1="454.19" y1="269.70" x2="454.19" y2="280.70" stroke="#000" stroke-width="2.2" />
<line x1="452.59" y1="269.70" x2="455.79" y2="269.70" stroke="#000" stroke-width="2.2" />
<line x1="452.59" y1="280.70" x2="455.79" y2="280.70" stroke="#000" stroke-width="2.2" />
<path d="M454.2,270.7 L457.5,275.2 L454.2,279.7 L450.9,275.2 Z" fill="#000" stroke="none" stroke-width="1" />
<polyline points="347.7,284.5 362.3,283.2 378.3,282.0 392.9,281.0 409.0,274.0 423.6,259.0 439.6,242.5 454.2,240.0" fill="none" stroke="#000" stroke-width="3.0" stroke-dasharray="2.4,2.6" stroke-linejoin="round"/>
<line x1="347.72" y1="282.50" x2="347.72" y2="286.50" stroke="#000" stroke-width="2.2" />
<line x1="345.12" y1="282.50" x2="350.32" y2="282.50" stroke="#000" stroke-width="2.2" />
<line x1="345.12" y1="286.50" x2="350.32" y2="286.50" stroke="#000" stroke-width="2.2" />
<rect x="344.9" y="281.7" width="5.6" height="5.6" fill="#000"/>
<line x1="362.33" y1="281.20" x2="362.33" y2="285.20" stroke="#000" stroke-width="2.2" />
<line x1="359.73" y1="281.20" x2="364.93" y2="281.20" stroke="#000" stroke-width="2.2" />
<line x1="359.73" y1="285.20" x2="364.93" y2="285.20" stroke="#000" stroke-width="2.2" />
<rect x="359.5" y="280.4" width="5.6" height="5.6" fill="#000"/>
<line x1="378.34" y1="279.00" x2="378.34" y2="285.00" stroke="#000" stroke-width="2.2" />
<line x1="375.74" y1="279.00" x2="380.94" y2="279.00" stroke="#000" stroke-width="2.2" />
<line x1="375.74" y1="285.00" x2="380.94" y2="285.00" stroke="#000" stroke-width="2.2" />
<rect x="375.5" y="279.2" width="5.6" height="5.6" fill="#000"/>
<line x1="392.95" y1="277.00" x2="392.95" y2="285.00" stroke="#000" stroke-width="2.2" />
<line x1="390.35" y1="277.00" x2="395.55" y2="277.00" stroke="#000" stroke-width="2.2" />
<line x1="390.35" y1="285.00" x2="395.55" y2="285.00" stroke="#000" stroke-width="2.2" />
<rect x="390.1" y="278.2" width="5.6" height="5.6" fill="#000"/>
<line x1="408.96" y1="269.00" x2="408.96" y2="279.00" stroke="#000" stroke-width="2.2" />
<line x1="406.36" y1="269.00" x2="411.56" y2="269.00" stroke="#000" stroke-width="2.2" />
<line x1="406.36" y1="279.00" x2="411.56" y2="279.00" stroke="#000" stroke-width="2.2" />
<rect x="406.2" y="271.2" width="5.6" height="5.6" fill="#000"/>
<line x1="423.57" y1="253.00" x2="423.57" y2="265.00" stroke="#000" stroke-width="2.2" />
<line x1="420.97" y1="253.00" x2="426.17" y2="253.00" stroke="#000" stroke-width="2.2" />
<line x1="420.97" y1="265.00" x2="426.17" y2="265.00" stroke="#000" stroke-width="2.2" />
<rect x="420.8" y="256.2" width="5.6" height="5.6" fill="#000"/>
<line x1="439.58" y1="234.50" x2="439.58" y2="250.50" stroke="#000" stroke-width="2.2" />
<line x1="436.98" y1="234.50" x2="442.18" y2="234.50" stroke="#000" stroke-width="2.2" />
<line x1="436.98" y1="250.50" x2="442.18" y2="250.50" stroke="#000" stroke-width="2.2" />
<rect x="436.8" y="239.7" width="5.6" height="5.6" fill="#000"/>
<line x1="454.19" y1="234.00" x2="454.19" y2="246.00" stroke="#000" stroke-width="2.2" />
<line x1="451.59" y1="234.00" x2="456.79" y2="234.00" stroke="#000" stroke-width="2.2" />
<line x1="451.59" y1="246.00" x2="456.79" y2="246.00" stroke="#000" stroke-width="2.2" />
<rect x="451.4" y="237.2" width="5.6" height="5.6" fill="#000"/>
<polyline points="347.7,284.0 362.3,281.5 378.3,277.0 392.9,271.0 409.0,259.0 423.6,241.0 439.6,225.0 454.2,223.0" fill="none" stroke="#000" stroke-width="3.0" stroke-dasharray="7,3.5" stroke-linejoin="round"/>
<line x1="347.72" y1="282.00" x2="347.72" y2="286.00" stroke="#000" stroke-width="2.2" />
<line x1="345.12" y1="282.00" x2="350.32" y2="282.00" stroke="#000" stroke-width="2.2" />
<line x1="345.12" y1="286.00" x2="350.32" y2="286.00" stroke="#000" stroke-width="2.2" />
<path d="M344.5,287.2 L347.7,280.8 L351.0,287.2 Z" fill="#000" stroke="none" stroke-width="1" />
<line x1="362.33" y1="279.50" x2="362.33" y2="283.50" stroke="#000" stroke-width="2.2" />
<line x1="359.73" y1="279.50" x2="364.93" y2="279.50" stroke="#000" stroke-width="2.2" />
<line x1="359.73" y1="283.50" x2="364.93" y2="283.50" stroke="#000" stroke-width="2.2" />
<path d="M359.1,284.8 L362.3,278.2 L365.6,284.8 Z" fill="#000" stroke="none" stroke-width="1" />
<line x1="378.34" y1="274.00" x2="378.34" y2="280.00" stroke="#000" stroke-width="2.2" />
<line x1="375.74" y1="274.00" x2="380.94" y2="274.00" stroke="#000" stroke-width="2.2" />
<line x1="375.74" y1="280.00" x2="380.94" y2="280.00" stroke="#000" stroke-width="2.2" />
<path d="M375.1,280.2 L378.3,273.8 L381.6,280.2 Z" fill="#000" stroke="none" stroke-width="1" />
<line x1="392.95" y1="267.00" x2="392.95" y2="275.00" stroke="#000" stroke-width="2.2" />
<line x1="390.35" y1="267.00" x2="395.55" y2="267.00" stroke="#000" stroke-width="2.2" />
<line x1="390.35" y1="275.00" x2="395.55" y2="275.00" stroke="#000" stroke-width="2.2" />
<path d="M389.7,274.2 L392.9,267.8 L396.2,274.2 Z" fill="#000" stroke="none" stroke-width="1" />
<line x1="408.96" y1="252.00" x2="408.96" y2="266.00" stroke="#000" stroke-width="2.2" />
<line x1="406.36" y1="252.00" x2="411.56" y2="252.00" stroke="#000" stroke-width="2.2" />
<line x1="406.36" y1="266.00" x2="411.56" y2="266.00" stroke="#000" stroke-width="2.2" />
<path d="M405.7,262.2 L409.0,255.8 L412.2,262.2 Z" fill="#000" stroke="none" stroke-width="1" />
<line x1="423.57" y1="230.00" x2="423.57" y2="252.00" stroke="#000" stroke-width="2.2" />
<line x1="420.97" y1="230.00" x2="426.17" y2="230.00" stroke="#000" stroke-width="2.2" />
<line x1="420.97" y1="252.00" x2="426.17" y2="252.00" stroke="#000" stroke-width="2.2" />
<path d="M420.3,244.2 L423.6,237.8 L426.8,244.2 Z" fill="#000" stroke="none" stroke-width="1" />
<line x1="439.58" y1="214.00" x2="439.58" y2="236.00" stroke="#000" stroke-width="2.2" />
<line x1="436.98" y1="214.00" x2="442.18" y2="214.00" stroke="#000" stroke-width="2.2" />
<line x1="436.98" y1="236.00" x2="442.18" y2="236.00" stroke="#000" stroke-width="2.2" />
<path d="M436.3,228.2 L439.6,221.8 L442.8,228.2 Z" fill="#000" stroke="none" stroke-width="1" />
<line x1="454.19" y1="213.00" x2="454.19" y2="233.00" stroke="#000" stroke-width="2.2" />
<line x1="451.59" y1="213.00" x2="456.79" y2="213.00" stroke="#000" stroke-width="2.2" />
<line x1="451.59" y1="233.00" x2="456.79" y2="233.00" stroke="#000" stroke-width="2.2" />
<path d="M450.9,226.2 L454.2,219.8 L457.4,226.2 Z" fill="#000" stroke="none" stroke-width="1" />
</svg>
</body></html>
